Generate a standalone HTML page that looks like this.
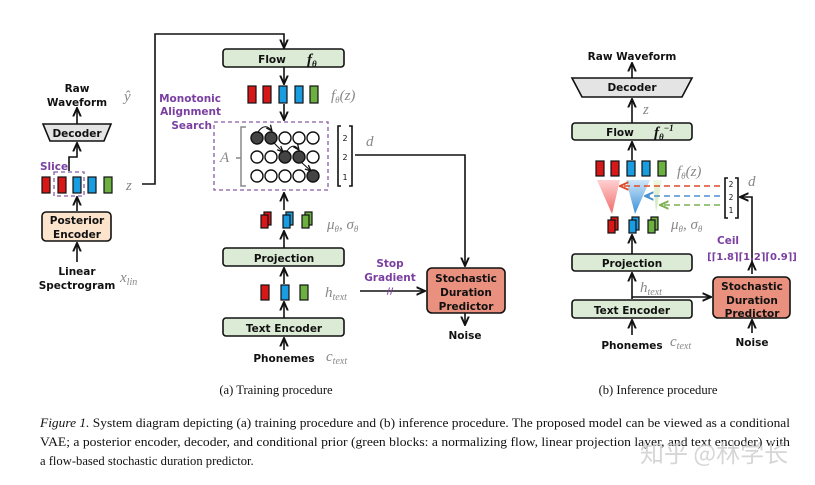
<!DOCTYPE html>
<html><head><meta charset="utf-8"><style>
body{margin:0;background:#fff;}
svg{display:block;}
.s{font-family:"DejaVu Sans","Liberation Sans",sans-serif;font-size:10.5px;fill:#111;}
.b{font-weight:bold;}
.p{fill:#7a3fa0;}
.m{font-family:"Liberation Serif",serif;font-style:italic;fill:#888;font-size:15px;}
.c{font-family:"Liberation Serif",serif;font-size:12.6px;fill:#111;}
</style></head><body>
<svg width="815" height="485" viewBox="0 0 815 485" xmlns="http://www.w3.org/2000/svg">
<defs>
<marker id="a" viewBox="0 0 10 10" refX="9" refY="5" markerWidth="6" markerHeight="6" orient="auto"><path d="M0,1 L9,5 L0,9" fill="none" stroke="#111" stroke-width="2"/></marker>
<marker id="ar" viewBox="0 0 10 10" refX="9" refY="5" markerWidth="6" markerHeight="6" orient="auto"><path d="M0,1 L9,5 L0,9" fill="none" stroke="#e04a2a" stroke-width="2"/></marker>
<marker id="ab" viewBox="0 0 10 10" refX="9" refY="5" markerWidth="6" markerHeight="6" orient="auto"><path d="M0,1 L9,5 L0,9" fill="none" stroke="#4a90d0" stroke-width="2"/></marker>
<marker id="ag" viewBox="0 0 10 10" refX="9" refY="5" markerWidth="6" markerHeight="6" orient="auto"><path d="M0,1 L9,5 L0,9" fill="none" stroke="#7ab050" stroke-width="2"/></marker>
<linearGradient id="gr" x1="0" y1="0" x2="0" y2="1"><stop offset="0" stop-color="#ffd0d0"/><stop offset="1" stop-color="#f06a6a"/></linearGradient>
<linearGradient id="gb" x1="0" y1="0" x2="0" y2="1"><stop offset="0" stop-color="#d0e6f8"/><stop offset="1" stop-color="#3a90d8"/></linearGradient>
<linearGradient id="gg" x1="0" y1="0" x2="0" y2="1"><stop offset="0" stop-color="#eef8e4"/><stop offset="1" stop-color="#c8e6b0"/></linearGradient>
</defs>
<g stroke="#111" stroke-width="1.6" fill="none">
<line x1="77" y1="124" x2="77" y2="108" marker-end="url(#a)"/>
<path d="M69 171 V157 H77 V143" marker-end="url(#a)"/>
<line x1="77" y1="211" x2="77" y2="197" marker-end="url(#a)"/>
<line x1="77" y1="262" x2="77" y2="243" marker-end="url(#a)"/>
<path d="M142 184 H155 V34 H284 V48" marker-end="url(#a)"/>
<line x1="284" y1="67" x2="284" y2="84" marker-end="url(#a)"/>
<line x1="284" y1="104" x2="284" y2="120" marker-end="url(#a)"/>
<line x1="284" y1="210" x2="284" y2="193" marker-end="url(#a)"/>
<line x1="284" y1="248" x2="284" y2="231" marker-end="url(#a)"/>
<line x1="284" y1="284" x2="284" y2="268" marker-end="url(#a)"/>
<line x1="284" y1="318" x2="284" y2="302" marker-end="url(#a)"/>
<line x1="284" y1="350" x2="284" y2="338" marker-end="url(#a)"/>
<path d="M355 155 H465 V266" marker-end="url(#a)"/>
<line x1="360" y1="291" x2="425" y2="291" marker-end="url(#a)"/>
<line x1="465" y1="313" x2="465" y2="325" marker-end="url(#a)"/>
<line x1="632" y1="78" x2="632" y2="63" marker-end="url(#a)"/>
<line x1="632" y1="123" x2="632" y2="99" marker-end="url(#a)"/>
<line x1="632" y1="160" x2="632" y2="142" marker-end="url(#a)"/>
<line x1="632" y1="254" x2="632" y2="235" marker-end="url(#a)"/>
<line x1="632" y1="299" x2="632" y2="273" marker-end="url(#a)"/>
<line x1="632" y1="335" x2="632" y2="320" marker-end="url(#a)"/>
<line x1="632" y1="297" x2="711" y2="297" marker-end="url(#a)"/>
<path d="M752 262 V197 H740" marker-end="url(#a)"/>
<line x1="752" y1="274" x2="752" y2="262" marker-end="url(#a)"/>
<line x1="752" y1="333" x2="752" y2="320" marker-end="url(#a)"/>
</g>
<g stroke="#111" stroke-width="1.6">
<path d="M43 124 H111 L104 141 H50 Z" fill="#e4e4e4"/>
<rect x="42" y="212" width="69" height="29" rx="4" fill="#fbe3cc"/>
<rect x="223" y="49" width="121" height="18" rx="3" fill="#dcebd5"/>
<rect x="223" y="248" width="121" height="18" rx="3" fill="#dcebd5"/>
<rect x="223" y="318" width="121" height="18" rx="3" fill="#dcebd5"/>
<rect x="427" y="268" width="78" height="45" rx="5" fill="#e9907e"/>
<path d="M572 78 H692 L682 97 H582 Z" fill="#e4e4e4"/>
<rect x="572" y="123" width="120" height="17" rx="3" fill="#dcebd5"/>
<rect x="572" y="254" width="120" height="17" rx="3" fill="#dcebd5"/>
<rect x="572" y="300" width="120" height="18" rx="3" fill="#dcebd5"/>
<rect x="713" y="277" width="77" height="41" rx="5" fill="#e9907e"/>
</g>
<g stroke="#111" stroke-width="1.2">
<rect x="42" y="177" width="8" height="16" fill="#d81818"/><rect x="58" y="177" width="8" height="16" fill="#d81818"/><rect x="73" y="177" width="8" height="16" fill="#1a9ce0"/><rect x="88" y="177" width="8" height="16" fill="#1a9ce0"/><rect x="104" y="177" width="8" height="16" fill="#6cb040"/>
<rect x="248" y="86" width="8" height="17" fill="#d81818"/><rect x="263" y="86" width="8" height="17" fill="#d81818"/><rect x="279" y="86" width="8" height="17" fill="#1a9ce0"/><rect x="295" y="86" width="8" height="17" fill="#1a9ce0"/><rect x="310" y="86" width="8" height="17" fill="#6cb040"/>
<rect x="264" y="212" width="7" height="13" fill="#d81818"/><rect x="261" y="215" width="7" height="13" fill="#d81818"/>
<rect x="286" y="212" width="7" height="13" fill="#1a9ce0"/><rect x="283" y="215" width="7" height="13" fill="#1a9ce0"/>
<rect x="305" y="212" width="7" height="13" fill="#6cb040"/><rect x="302" y="215" width="7" height="13" fill="#6cb040"/>
<rect x="261" y="285" width="8" height="15" fill="#d81818"/><rect x="281" y="285" width="8" height="15" fill="#1a9ce0"/><rect x="300" y="285" width="8" height="15" fill="#6cb040"/>
<rect x="596" y="161" width="8" height="15" fill="#d81818"/><rect x="611" y="161" width="8" height="15" fill="#d81818"/><rect x="627" y="161" width="8" height="15" fill="#1a9ce0"/><rect x="642" y="161" width="8" height="15" fill="#1a9ce0"/><rect x="658" y="161" width="8" height="15" fill="#6cb040"/>
<rect x="611" y="217" width="7" height="13" fill="#d81818"/><rect x="608" y="220" width="7" height="13" fill="#d81818"/>
<rect x="632" y="217" width="7" height="13" fill="#1a9ce0"/><rect x="629" y="220" width="7" height="13" fill="#1a9ce0"/>
<rect x="651" y="217" width="7" height="13" fill="#6cb040"/><rect x="648" y="220" width="7" height="13" fill="#6cb040"/>
</g>
<path d="M597 180 H620 L612 214 Z" fill="url(#gr)"/>
<path d="M626 180 H650 L635 214 Z" fill="url(#gb)"/>
<path d="M653 180 H662 L656 212 Z" fill="url(#gg)"/>
<g stroke-width="1.6" stroke-dasharray="6,4" fill="none">
<line x1="720" y1="186" x2="620" y2="186" stroke="#e04a2a" marker-end="url(#ar)"/>
<line x1="720" y1="196" x2="645" y2="196" stroke="#4a90d0" marker-end="url(#ab)"/>
<line x1="720" y1="205" x2="660" y2="205" stroke="#7ab050" marker-end="url(#ag)"/>
</g>
<g stroke="#8a5aa8" stroke-width="1.3" stroke-dasharray="4,3" fill="none">
<rect x="54" y="172" width="30" height="24"/>
<rect x="214" y="122" width="114" height="68"/>
</g>
<g stroke="#888" stroke-width="1.5" fill="none"><path d="M246 127 H241 V186 H246 M241 158 H236"/></g>
<g stroke="#111" stroke-width="1.4" fill="#fff">
<circle cx="257" cy="138" r="6" fill="#444"/><circle cx="271" cy="138" r="6" fill="#444"/><circle cx="285" cy="138" r="6"/><circle cx="299" cy="138" r="6"/><circle cx="313" cy="138" r="6"/>
<circle cx="257" cy="157" r="6"/><circle cx="271" cy="157" r="6"/><circle cx="285" cy="157" r="6" fill="#444"/><circle cx="299" cy="157" r="6" fill="#444"/><circle cx="313" cy="157" r="6"/>
<circle cx="257" cy="176" r="6"/><circle cx="271" cy="176" r="6"/><circle cx="285" cy="176" r="6"/><circle cx="299" cy="176" r="6"/><circle cx="313" cy="176" r="6" fill="#444"/>
</g>
<g stroke="#111" stroke-width="1.1" fill="none">
<path d="M258 132 Q265 122 272 131" marker-end="url(#a)"/>
<path d="M273 142 L283 152" marker-end="url(#a)"/>
<path d="M287 151 Q293 142 299 150" marker-end="url(#a)"/>
<path d="M301 162 L311 171" marker-end="url(#a)"/>
</g>
<g stroke="#111" stroke-width="1.6" fill="none">
<path d="M341 126 H338 V186 H341 M349 126 H352 V186 H349"/>
<path d="M728 178 H725 V218 H728 M735 178 H738 V218 H735"/>
</g>
<g class="s" text-anchor="middle">
<text x="345" y="141" font-size="8">2</text><text x="345" y="160" font-size="8">2</text><text x="345" y="180" font-size="8">1</text>
<text x="731" y="187" font-size="7.5">2</text><text x="731" y="200" font-size="7.5">2</text><text x="731" y="213" font-size="7.5">1</text>
</g>
<g class="s b" text-anchor="middle">
<text x="77" y="92">Raw</text><text x="77" y="106">Waveform</text>
<text x="77" y="137">Decoder</text>
<text x="77" y="224">Posterior</text><text x="77" y="238">Encoder</text>
<text x="77" y="275">Linear</text><text x="77" y="289">Spectrogram</text>
<text x="272" y="63">Flow</text>
<text x="284" y="262">Projection</text>
<text x="284" y="332">Text Encoder</text>
<text x="284" y="362">Phonemes</text>
<text x="466" y="282">Stochastic</text><text x="466" y="296">Duration</text><text x="466" y="310">Predictor</text>
<text x="465" y="339">Noise</text>
<text x="632" y="60">Raw Waveform</text>
<text x="632" y="91">Decoder</text>
<text x="620" y="136">Flow</text>
<text x="632" y="267">Projection</text>
<text x="632" y="314">Text Encoder</text>
<text x="632" y="349">Phonemes</text>
<text x="752" y="290">Stochastic</text><text x="752" y="304">Duration</text><text x="752" y="317">Predictor</text>
<text x="752" y="346">Noise</text>
</g>
<g class="s b p">
<text x="40" y="170">Slice</text>
<text x="221" y="102" text-anchor="end">Monotonic</text><text x="221" y="115" text-anchor="end">Alignment</text><text x="212" y="129" text-anchor="end">Search</text>
<text x="390" y="267" text-anchor="middle">Stop</text><text x="390" y="281" text-anchor="middle">Gradient</text>
<text x="390" y="294" text-anchor="middle" font-size="9">//</text>
<text x="717" y="244">Ceil</text>
<text x="752" y="260" text-anchor="middle" font-size="10">[⌈1.8⌉⌈1.2⌉⌈0.9⌉]</text>
</g>
<g class="m">
<text x="124" y="101">ŷ</text>
<text x="126" y="190">z</text>
<text x="120" y="282">x<tspan font-size="10" dy="3">lin</tspan></text>
<text x="307" y="64" fill="#111" font-weight="bold">f<tspan font-size="9" dy="3">θ</tspan></text>
<text x="331" y="100">f<tspan font-size="9" dy="3">θ</tspan><tspan dy="-3">(z)</tspan></text>
<text x="220" y="162">A</text>
<text x="366" y="146">d</text>
<text x="327" y="229">μ<tspan font-size="9" dy="3">θ</tspan><tspan dy="-3">, σ</tspan><tspan font-size="9" dy="3">θ</tspan></text>
<text x="325" y="297">h<tspan font-size="10" dy="3">text</tspan></text>
<text x="326" y="361">c<tspan font-size="10" dy="3">text</tspan></text>
<text x="643" y="114">z</text>
<text x="654" y="137" fill="#111" font-weight="bold">f<tspan font-size="9" dy="3">θ</tspan><tspan font-size="9" dy="-9">−1</tspan></text>
<text x="677" y="176">f<tspan font-size="9" dy="3">θ</tspan><tspan dy="-3">(z)</tspan></text>
<text x="748" y="186">d</text>
<text x="671" y="229">μ<tspan font-size="9" dy="3">θ</tspan><tspan dy="-3">, σ</tspan><tspan font-size="9" dy="3">θ</tspan></text>
<text x="640" y="292">h<tspan font-size="10" dy="3">text</tspan></text>
<text x="670" y="346">c<tspan font-size="10" dy="3">text</tspan></text>
</g>
<g class="c">
<text x="276" y="394" text-anchor="middle">(a) Training procedure</text>
<text x="658" y="394" text-anchor="middle">(b) Inference procedure</text>
<text x="40" y="427" textLength="750" lengthAdjust="spacingAndGlyphs"><tspan font-style="italic">Figure 1.</tspan> System diagram depicting (a) training procedure and (b) inference procedure. The proposed model can be viewed as a conditional</text>
<text x="40" y="446" textLength="750" lengthAdjust="spacingAndGlyphs">VAE; a posterior encoder, decoder, and conditional prior (green blocks: a normalizing flow, linear projection layer, and text encoder) with</text>
<text x="40" y="465">a flow-based stochastic duration predictor.</text>
</g>
<text x="640" y="462" font-family="'Noto Sans CJK SC',sans-serif" font-size="24" fill="#ccc" opacity="0.8">知乎 @林学长</text>
</svg>
</body></html>
